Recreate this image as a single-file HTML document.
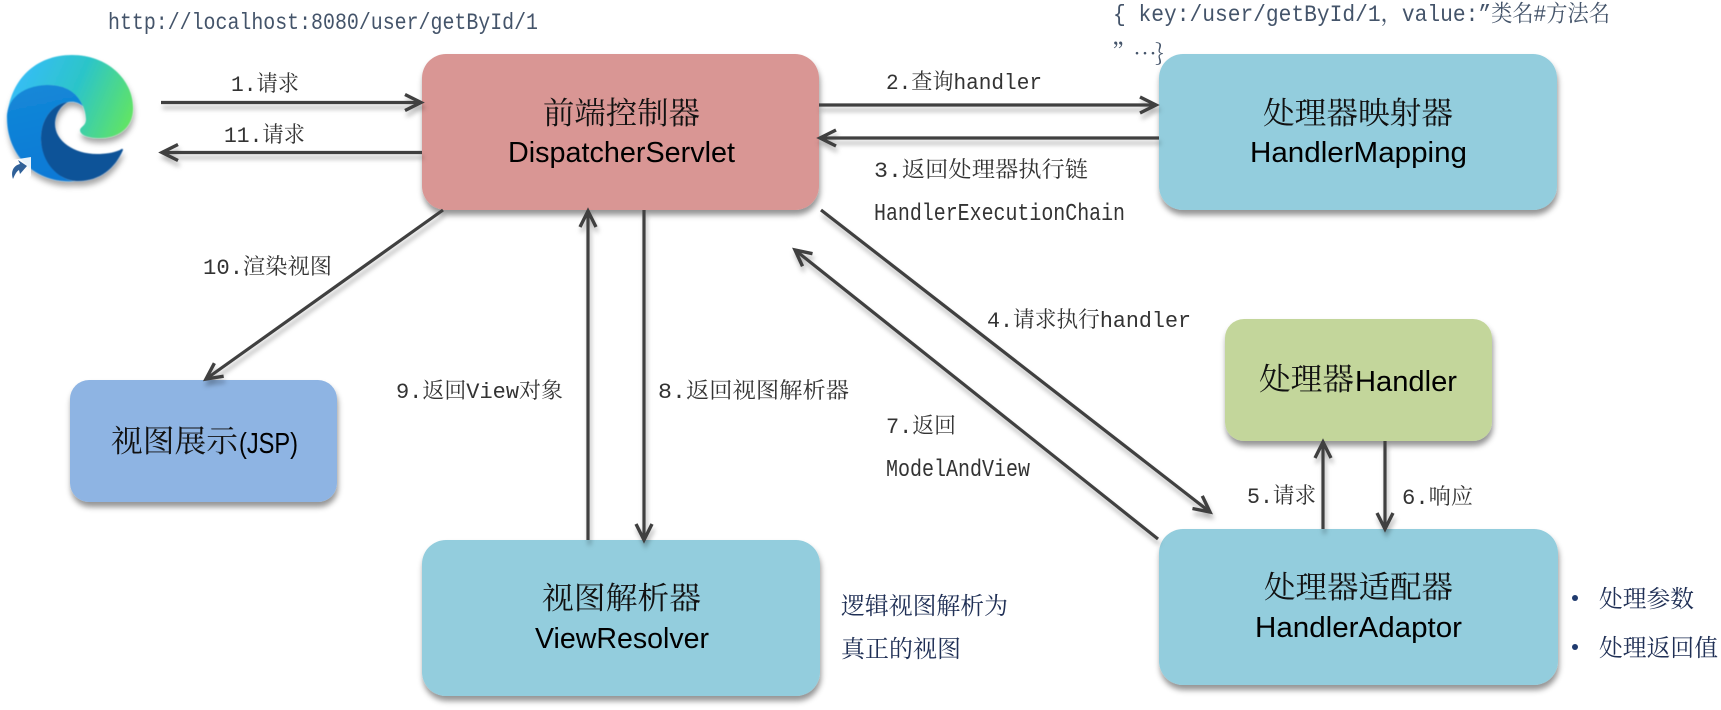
<!DOCTYPE html>
<html><head><meta charset="utf-8"><style>
html,body{margin:0;padding:0;background:#fff;width:1721px;height:710px;overflow:hidden}
svg{display:block}
text{font-family:"Liberation Mono","Noto Serif CJK SC",monospace;font-size:22px;fill:#333}
.m{font-size:24px}
.url{fill:#44546a;font-size:23px}
.c{font-family:"Noto Serif CJK SC",serif;font-size:24px;fill:#44546a}
.b{font-family:"Noto Serif CJK SC","Liberation Sans",serif;font-size:31px;fill:#111}
.l{font-family:"Liberation Sans",sans-serif;font-size:29px;fill:#000}
.n{fill:#1f2f55;font-family:"Noto Serif CJK SC",serif;font-size:24px}
</style></head><body>
<svg width="1721" height="710" viewBox="0 0 1721 710" xmlns="http://www.w3.org/2000/svg">
<defs>
<filter id="s" filterUnits="userSpaceOnUse" x="0" y="0" width="1721" height="710"><feDropShadow dx="1" dy="5" stdDeviation="3" flood-color="#000" flood-opacity=".42"/></filter>
<filter id="ls" filterUnits="userSpaceOnUse" x="0" y="0" width="1721" height="710"><feDropShadow dx="1.5" dy="5" stdDeviation="2.5" flood-color="#000" flood-opacity=".28"/></filter>
<filter id="ic" filterUnits="userSpaceOnUse" x="0" y="40" width="160" height="160"><feGaussianBlur stdDeviation=".5" result="b"/><feDropShadow in="b" dx="1" dy="5" stdDeviation="3" flood-color="#000" flood-opacity=".35"/></filter>
<linearGradient id="g1" gradientUnits="userSpaceOnUse" x1="15" y1="75" x2="130" y2="125"><stop offset="0" stop-color="#36bdf8"/><stop offset=".5" stop-color="#2cc5c8"/><stop offset="1" stop-color="#62e562"/></linearGradient>
<linearGradient id="g2" gradientUnits="userSpaceOnUse" x1="30" y1="85" x2="50" y2="175"><stop offset="0" stop-color="#1488d8"/><stop offset="1" stop-color="#0a7ad6"/></linearGradient>
<marker id="a" markerUnits="userSpaceOnUse" markerWidth="24" markerHeight="24" refX="19" refY="12" orient="auto"><path d="M3,4 L19,12 L3,20" fill="none" stroke="#404040" stroke-width="3.4"/></marker>
</defs>

<!-- Edge icon -->
<g filter="url(#ic)">
<path d="M7,118 C10,80 35,55 72,55 C108,55 133,80 133,108 C133,128 118,138 100,138 C88,138 80,135 80,130 C81,126 86,126 86,119 C86,108 78,85 48,85 C28,85 12,98 7,118Z" fill="url(#g1)"/>
<path d="M7,118 C7,95 28,85 48,85 C65,85 77,92 83,106 C78,102 73,101 68,102 C52,104 41,120 41,138 C41,160 58,180 75,181 C35,184 7,155 7,118Z" fill="url(#g2)"/>
<path d="M68,102 C52,104 41,120 41,138 C41,162 58,181 78,181 C100,181 115,168 123,150 C123,148 121,149 120,150 C113,153 105,154 97,154 C74,154 55,141 55,124 C55,115 60,106 68,102Z" fill="#0e5298"/>
</g>
<path d="M12,182 L12,160 L31,157 L31,176 L24,183Z" fill="#fff" opacity=".9"/>
<path d="M13,179 C10,170 15,165 20,164 L18,160 L27,166 L20,174 L19,170 C17,171 15,174 13,179Z" fill="#2f6098"/>

<!-- Boxes -->
<g filter="url(#s)">
<rect x="422" y="54" width="397" height="156" rx="24" fill="#d99694"/>
<rect x="1159" y="54" width="398" height="156" rx="24" fill="#93cddd"/>
<rect x="70" y="380" width="267" height="122" rx="19" fill="#8eb4e3"/>
<rect x="422" y="540" width="398" height="156" rx="24" fill="#93cddd"/>
<rect x="1225" y="319" width="267" height="122" rx="19" fill="#c3d69b"/>
<rect x="1159" y="529" width="399" height="156" rx="24" fill="#93cddd"/>
</g>

<!-- Connectors -->
<g filter="url(#ls)" fill="none" stroke="#404040" stroke-width="3.2">
<path d="M161,102.5 L421,102.5" marker-end="url(#a)"/>
<path d="M422,152.5 L162,152.5" marker-end="url(#a)"/>
<path d="M819,105 L1156,105" marker-end="url(#a)"/>
<path d="M1159,138 L820,138" marker-end="url(#a)"/>
<path d="M821,210 L1210,512" marker-end="url(#a)"/>
<path d="M1158,539 L795,250" marker-end="url(#a)"/>
<path d="M443,210 L206,379" marker-end="url(#a)"/>
<path d="M588,540 L588,211" marker-end="url(#a)"/>
<path d="M644,210 L644,540" marker-end="url(#a)"/>
<path d="M1323,529 L1323,442" marker-end="url(#a)"/>
<path d="M1385,441 L1385,529" marker-end="url(#a)"/>
</g>

<!-- Box text -->
<text class="b" x="543" y="124" textLength="157" lengthAdjust="spacingAndGlyphs">前端控制器</text>
<text class="l" x="508" y="162" textLength="227" lengthAdjust="spacingAndGlyphs">DispatcherServlet</text>
<text class="b" x="1263" y="124" textLength="190" lengthAdjust="spacingAndGlyphs">处理器映射器</text>
<text class="l" x="1250" y="162" textLength="217" lengthAdjust="spacingAndGlyphs">HandlerMapping</text>
<text class="b" x="111" y="452" textLength="127" lengthAdjust="spacingAndGlyphs">视图展示</text>
<text class="l" x="239" y="453" textLength="59" lengthAdjust="spacingAndGlyphs">(JSP)</text>
<text class="b" x="542" y="609" textLength="159" lengthAdjust="spacingAndGlyphs">视图解析器</text>
<text class="l" x="535" y="648" textLength="174" lengthAdjust="spacingAndGlyphs">ViewResolver</text>
<text class="b" x="1259" y="390" textLength="95" lengthAdjust="spacingAndGlyphs">处理器</text>
<text class="l" x="1355" y="391" textLength="102" lengthAdjust="spacingAndGlyphs">Handler</text>
<text class="b" x="1264" y="598" textLength="189" lengthAdjust="spacingAndGlyphs">处理器适配器</text>
<text class="l" x="1255" y="637" textLength="207" lengthAdjust="spacingAndGlyphs">HandlerAdaptor</text>

<!-- Labels -->
<text class="url" x="108" y="29" textLength="430" lengthAdjust="spacingAndGlyphs">http://localhost:8080/user/getById/1</text>
<text class="url" x="1113" y="21" textLength="497" lengthAdjust="spacingAndGlyphs">{ key:/user/getById/1，value:”类名#方法名</text>
<text class="c" x="1112" y="62">”</text>
<text class="c" x="1133" y="62" textLength="24" lengthAdjust="spacingAndGlyphs">…</text>
<text class="c" x="1155" y="61">}</text>
<text x="231" y="91" textLength="68" lengthAdjust="spacingAndGlyphs">1.请求</text>
<text x="224" y="142" textLength="81" lengthAdjust="spacingAndGlyphs">11.请求</text>
<text x="886" y="89" textLength="156" lengthAdjust="spacingAndGlyphs">2.查询handler</text>
<text x="874" y="177" textLength="214" lengthAdjust="spacingAndGlyphs">3.返回处理器执行链</text>
<text class="m" x="874" y="220" textLength="251" lengthAdjust="spacingAndGlyphs">HandlerExecutionChain</text>
<text x="203" y="274" textLength="129" lengthAdjust="spacingAndGlyphs">10.渲染视图</text>
<text x="396" y="398" textLength="167" lengthAdjust="spacingAndGlyphs">9.返回View对象</text>
<text x="658" y="398" textLength="191" lengthAdjust="spacingAndGlyphs">8.返回视图解析器</text>
<text x="987" y="327" textLength="204" lengthAdjust="spacingAndGlyphs">4.请求执行handler</text>
<text x="886" y="433" textLength="70" lengthAdjust="spacingAndGlyphs">7.返回</text>
<text class="m" x="886" y="476" textLength="144" lengthAdjust="spacingAndGlyphs">ModelAndView</text>
<text x="1247" y="503" textLength="69" lengthAdjust="spacingAndGlyphs">5.请求</text>
<text x="1402" y="504" textLength="71" lengthAdjust="spacingAndGlyphs">6.响应</text>
<text class="n" x="841" y="614" textLength="167" lengthAdjust="spacingAndGlyphs">逻辑视图解析为</text>
<text class="n" x="841" y="657" textLength="120" lengthAdjust="spacingAndGlyphs">真正的视图</text>
<circle cx="1575" cy="598" r="3" fill="#1f3a6e"/>
<circle cx="1575" cy="647" r="3" fill="#1f3a6e"/>
<text class="n" x="1599" y="607" textLength="95" lengthAdjust="spacingAndGlyphs">处理参数</text>
<text class="n" x="1599" y="656" textLength="119" lengthAdjust="spacingAndGlyphs">处理返回值</text>
</svg>
</body></html>
